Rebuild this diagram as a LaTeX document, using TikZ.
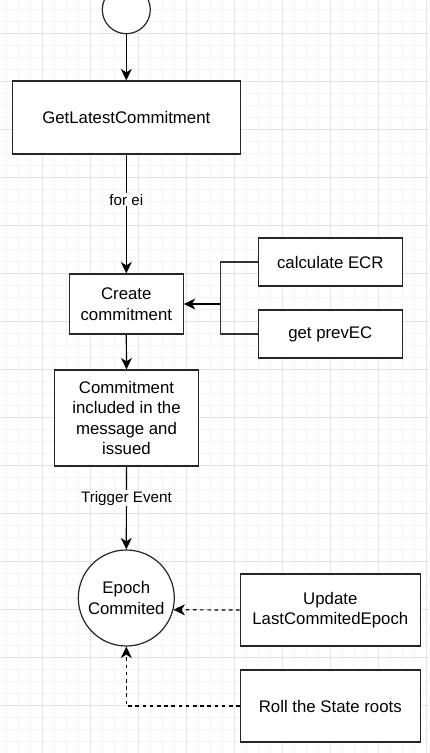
\documentclass[tikz,border=0pt]{standalone}
\usepackage{fontspec}
\setmainfont{Liberation Sans}
\usetikzlibrary{arrows.meta}
\definecolor{gridmajor}{RGB}{226,226,226}
\definecolor{gridminor}{RGB}{244,244,244}
\tikzset{
  box/.style={draw=black!85, line width=1.2pt, rectangle, fill=white, inner sep=0pt, align=center,
    font=\fontsize{16.8}{20.5}\selectfont},
  roundnode/.style={draw=black!85, line width=1.2pt, circle, fill=white, inner sep=0pt, align=center,
    font=\fontsize{16.8}{20.5}\selectfont},
  conn/.style={draw=black, line width=1.2pt, -{Stealth[length=11.5pt,width=11pt,inset=3.5pt]}},
  dconn/.style={conn, dash pattern=on 3.6pt off 3.6pt},
  plainline/.style={draw=black!80, line width=1.2pt},
  lbl/.style={fill=white, inner sep=1pt, font=\fontsize{15.2}{18}\selectfont},
}
\begin{document}
\begin{tikzpicture}[x=1pt, y=-1pt]
\useasboundingbox (0,0) rectangle (429,753);
\fill[white] (0,0) rectangle (429,753);
\begin{scope}
\clip (0,0) rectangle (429,753);
\foreach \i in {0,...,36} {
  \draw[gridminor, line width=1pt] ({6.3+12*\i},0) -- ({6.3+12*\i},753);
}
\foreach \i in {0,...,63} {
  \draw[gridminor, line width=1pt] (0,{9+12*\i}) -- (429,{9+12*\i});
}
\foreach \i in {0,...,8} {
  \draw[gridmajor, line width=1pt] ({42.3+48*\i},0) -- ({42.3+48*\i},753);
}
\foreach \i in {0,...,15} {
  \draw[gridmajor, line width=1pt] (0,{33+48*\i}) -- (429,{33+48*\i});
}
\end{scope}

\node[roundnode, minimum size=48pt] (start) at (126.3,9.7) {};
\node[box, minimum width=228pt, minimum height=73pt] (glc) at (126.3,117.5) {GetLatestCommitment};
\node[box, minimum width=114pt, minimum height=60pt] (cc) at (126.3,304) {Create\\commitment};
\node[box, minimum width=144pt, minimum height=48pt] (ecr) at (330.3,262) {calculate ECR};
\node[box, minimum width=144pt, minimum height=48pt] (pec) at (330.3,334) {get prevEC};
\node[box, minimum width=144.4pt, minimum height=96pt] (cim) at (126.5,418) {Commitment\\included in the\\message and\\issued};
\node[roundnode, minimum size=96pt] (ec) at (126.3,598) {Epoch\\Commited};
\node[box, minimum width=180pt, minimum height=72pt] (ulce) at (330.3,610) {Update\\LastCommitedEpoch};
\node[box, minimum width=180pt, minimum height=72pt] (roll) at (330.3,706) {Roll the State roots};
\coordinate (j) at (220.7,304);

\draw[conn] (start.south) -- (glc.north);
\draw[conn] (glc.south) -- node[lbl, pos=0.38] {for ei} (cc.north);
\draw[plainline] (ecr.west) -| (j);
\draw[plainline] (pec.west) -| (j);
\draw[conn] (j) -- (cc.east);
\draw[conn] (cc.south) -- (cim.north);
\draw[conn] (cim.south) -- node[lbl, pos=0.38] {Trigger Event} (ec.north);
\draw[dconn] (ulce.west) -- (ec.-14.48);
\draw[dconn] (roll.west) -| (ec.south);
\end{tikzpicture}
\end{document}
